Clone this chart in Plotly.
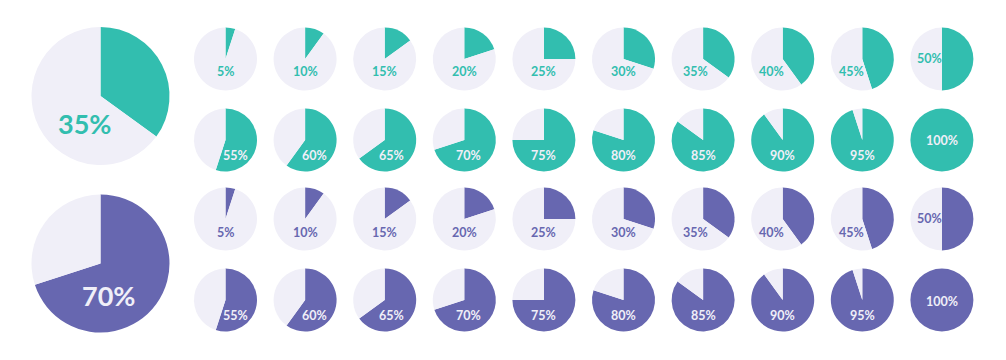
import plotly.graph_objects as go

# ---- data ----
small_percents = [5, 10, 15, 20, 25, 30, 35, 40, 45, 50,
                  55, 60, 65, 70, 75, 80, 85, 90, 95, 100]
big_percents = [35, 70]
palette_names = ["teal", "purple"]
colors = {"teal": "#32BEAF", "purple": "#6767B0"}
light = "#F0EFF8"

W, H = 1006, 360
FONT = "Lato"

fig = go.Figure()

def add_pie(cx, cy, r, p, col):
    fig.add_trace(go.Pie(
        values=[p, 100 - p],
        sort=False, direction="clockwise", rotation=0,
        marker=dict(colors=[col, light], line=dict(width=0)),
        textinfo="none", hoverinfo="skip", showlegend=False,
        domain=dict(x=[(cx - r) / W, (cx + r) / W],
                    y=[1 - (cy + r) / H, 1 - (cy - r) / H]),
    ))

def label(cx, cy, txt, size, col):
    fig.add_annotation(x=cx / W, y=1 - cy / H, xref="paper", yref="paper",
                       text="<b>" + txt + "</b>", showarrow=False,
                       xanchor="center", yanchor="middle",
                       font=dict(family=FONT, size=size, color=col))

def small_offset(p):
    if p <= 30:
        return 0, 13
    if p == 35:
        return -8, 13
    if p < 50:
        return -11, 13
    if p == 50:
        return -12, 0
    if p == 100:
        return 0, 1
    if p >= 75:
        return 0, 15
    return {55: 10, 60: 9, 65: 7, 70: 4}[p], 15

col_x0, col_dx = 225.5, 79.6
row_y = [59, 140, 219, 300]
r_small = 31.5

big_centers = [(100.5, 96), (100.5, 263.5)]
big_r = 69
big_offsets = [(-16, 27), (8, 32)]

for g, name in enumerate(palette_names):
    col = colors[name]
    bx, by = big_centers[g]
    bp = big_percents[g]
    add_pie(bx, by, big_r, bp, col)
    ox, oy = big_offsets[g]
    label(bx + ox, by + oy, f"{bp}%", 27, col if bp < 50 else light)
    for i, p in enumerate(small_percents):
        row = g * 2 + i // 10
        cx = col_x0 + (i % 10) * col_dx
        cy = row_y[row]
        add_pie(cx, cy, r_small, p, col)
        ox, oy = small_offset(p)
        label(cx + ox, cy + oy, f"{p}%", 12.5, col if p <= 50 else light)

fig.update_layout(width=W, height=H, margin=dict(l=0, r=0, t=0, b=0),
                  paper_bgcolor="white", plot_bgcolor="white")
fig.write_html("out.html", config={"displayModeBar": False},
               post_script="document.body.style.margin='0';document.body.style.overflow='hidden';")
